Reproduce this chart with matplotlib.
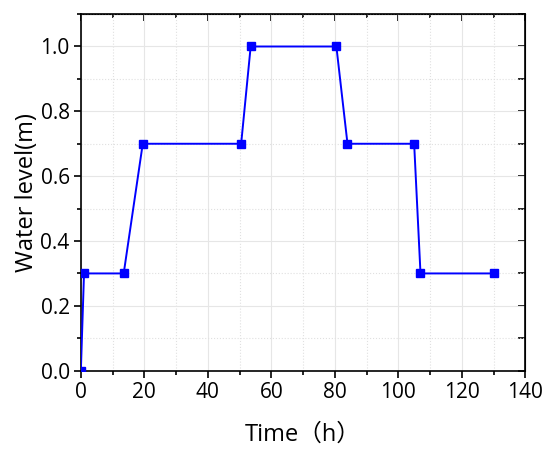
import matplotlib
matplotlib.use('Agg')
import matplotlib.pyplot as plt
from matplotlib.ticker import MultipleLocator

plt.rcParams['font.family'] = ['Open Sans', 'Noto Sans CJK SC', 'DejaVu Sans']

# water level steps over time
time_h = [0, 1, 13.5, 19.5, 50.5, 53.5, 80.5, 84, 105, 107, 130]
level_m = [0, 0.3, 0.3, 0.7, 0.7, 1.0, 1.0, 0.7, 0.7, 0.3, 0.3]

fig = plt.figure(figsize=(5.5, 4.54), dpi=100)
ax = fig.add_axes([0.147, 0.1835, 0.808, 0.7855])

ax.plot(time_h, level_m, color='#0000ff', lw=1.4, marker='s', ms=5.5, zorder=3)

ax.set_xlim(0, 140)
ax.set_ylim(0, 1.1)
ax.xaxis.set_major_locator(MultipleLocator(20))
ax.xaxis.set_minor_locator(MultipleLocator(10))
ax.yaxis.set_major_locator(MultipleLocator(0.2))
ax.yaxis.set_minor_locator(MultipleLocator(0.1))
ax.yaxis.set_major_formatter(plt.FormatStrFormatter('%.1f'))

ax.grid(True, which='major', color='#e6e6e6', lw=0.8, ls='-')
ax.grid(True, which='minor', color='#e0e0e0', lw=0.8, ls=':')
ax.set_axisbelow(True)

ax.tick_params(which='both', direction='out', top=False, right=False,
               labelsize=15, width=1.2, pad=3)
ax.tick_params(which='major', length=5)
ax.tick_params(which='minor', length=3)
for s in ax.spines.values():
    s.set_linewidth(1.2)

# inward ticks on top and right
ax2 = ax.secondary_xaxis('top')
ax2.xaxis.set_major_locator(MultipleLocator(20))
ax2.xaxis.set_minor_locator(MultipleLocator(10))
ax2.tick_params(which='both', direction='in', labeltop=False, width=1.2)
ax2.tick_params(which='major', length=5)
ax2.tick_params(which='minor', length=3)
ax3 = ax.secondary_yaxis('right')
ax3.yaxis.set_major_locator(MultipleLocator(0.2))
ax3.yaxis.set_minor_locator(MultipleLocator(0.1))
ax3.tick_params(which='both', direction='in', labelright=False, width=1.2)
ax3.tick_params(which='major', length=5)
ax3.tick_params(which='minor', length=5)

ax.set_xlabel('Time（h）', fontsize=17, labelpad=14)
ax.set_ylabel('Water level(m)', fontsize=17, labelpad=1)

fig.savefig('out.png', dpi=100)
